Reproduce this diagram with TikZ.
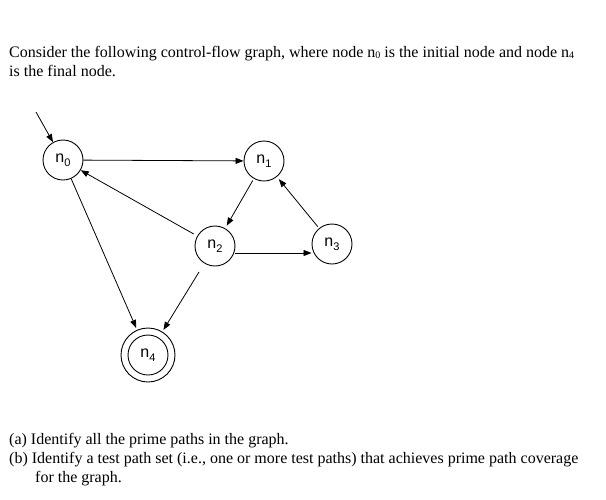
\documentclass[tikz,border=0pt]{standalone}
\usepackage{fontspec}
\setmainfont{Liberation Serif}
\newfontfamily\lsans{Liberation Sans}
\usetikzlibrary{arrows.meta}
\newcommand{\nsub}[1]{n\raisebox{-3.5pt}{\fontsize{11}{11}\selectfont #1}}
\newcommand{\tsub}[1]{n\raisebox{-1pt}{\fontsize{10}{10}\selectfont #1}}
\begin{document}
\begin{tikzpicture}[x=1pt,y=-1pt,
  st/.style={circle,draw,line width=0.9pt,minimum size=40pt,inner sep=0pt,font=\lsans\fontsize{16}{16}\selectfont},
  ed/.style={-{Triangle[length=8pt,width=6pt]},line width=0.8pt},
  txt/.style={anchor=base west,inner sep=0pt,font=\fontsize{16}{19}\selectfont}]
\useasboundingbox (0,0) rectangle (606,499);
\node[txt] (t1) at (9,57) {Consider the following control-flow graph, where node \tsub{0} is the initial node and node \tsub{4}};
\node[txt] (t2) at (9,76) {is the final node.};
\node[st] (n0) at (63,160) {\nsub{0}};
\node[st] (n1) at (264,161) {\nsub{1}};
\node[st] (n2) at (215,246) {\nsub{2}};
\node[st] (n3) at (332,244) {\nsub{3}};
\node[st] (n4) at (148,355) {\nsub{4}};
\node[circle,draw,line width=0.9pt,minimum size=54pt] (n4o) at (n4) {};
\coordinate (s) at (36,112);
\draw[ed] (s) -- (n0);
\draw[ed] (n0) -- (n1);
\draw[ed,shorten <=4pt] (n2) -- (n0.-30);
\draw[ed,shorten >=3pt,shorten <=2pt] (n1) -- (n2);
\draw[ed] (n2.east |- 0,253) -- (n3.west |- 0,253);
\draw[ed,shorten <=2pt,shorten >=3pt] (n3) -- (n1);
\draw[ed,shorten >=2pt] (n0) -- (n4o);
\draw[ed,shorten <=10pt,shorten >=2pt] (n2) -- (n4o);
\node[txt] (a) at (9,444) {(a) Identify all the prime paths in the graph.};
\node[txt] (b) at (9,463) {(b) Identify a test path set (i.e., one or more test paths) that achieves prime path coverage};
\node[txt] (c) at (35,482) {for the graph.};
\end{tikzpicture}
\end{document}
